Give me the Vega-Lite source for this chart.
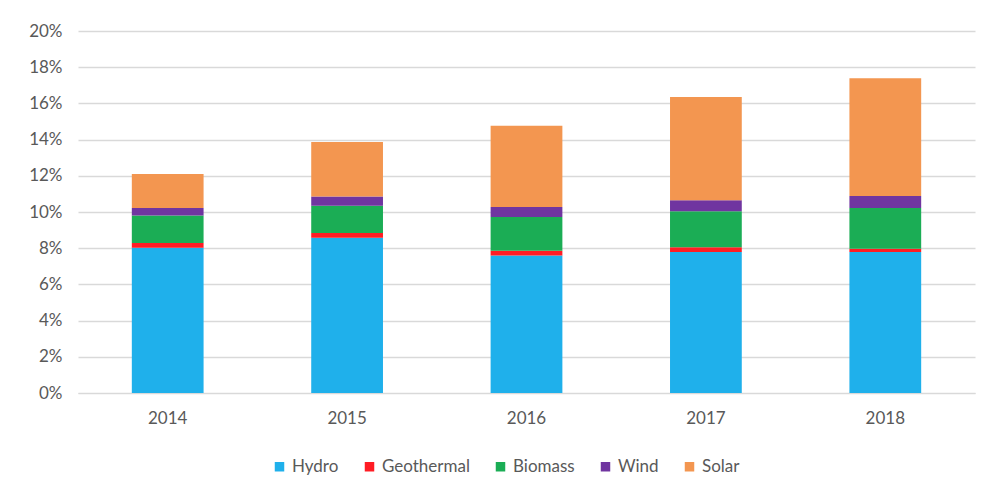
{
  "$schema": "https://vega.github.io/schema/vega-lite/v6.json",
  "width": 897,
  "height": 362,
  "autosize": {"type": "none"},
  "padding": {"left": 78, "top": 31, "right": 25, "bottom": 107},
  "background": "white",
  "config": {
    "view": {"stroke": null},
    "font": "Lato",
    "axis": {"labelFont": "Lato", "labelFontSize": 17, "labelColor": "#595959", "titleFont": "Lato"},
    "legend": {"labelFont": "Lato", "labelFontSize": 17, "labelColor": "#595959"}
  },
  "data": {
    "values": [
      {"year": "2014", "source": "Hydro", "share": 0.0803},
      {"year": "2014", "source": "Geothermal", "share": 0.0026},
      {"year": "2014", "source": "Biomass", "share": 0.0151},
      {"year": "2014", "source": "Wind", "share": 0.0042},
      {"year": "2014", "source": "Solar", "share": 0.0188},
      {"year": "2015", "source": "Hydro", "share": 0.0858},
      {"year": "2015", "source": "Geothermal", "share": 0.0026},
      {"year": "2015", "source": "Biomass", "share": 0.0151},
      {"year": "2015", "source": "Wind", "share": 0.0050},
      {"year": "2015", "source": "Solar", "share": 0.0302},
      {"year": "2016", "source": "Hydro", "share": 0.0760},
      {"year": "2016", "source": "Geothermal", "share": 0.0026},
      {"year": "2016", "source": "Biomass", "share": 0.0186},
      {"year": "2016", "source": "Wind", "share": 0.0056},
      {"year": "2016", "source": "Solar", "share": 0.0449},
      {"year": "2017", "source": "Hydro", "share": 0.0779},
      {"year": "2017", "source": "Geothermal", "share": 0.0026},
      {"year": "2017", "source": "Biomass", "share": 0.0199},
      {"year": "2017", "source": "Wind", "share": 0.0061},
      {"year": "2017", "source": "Solar", "share": 0.0570},
      {"year": "2018", "source": "Hydro", "share": 0.0779},
      {"year": "2018", "source": "Geothermal", "share": 0.0018},
      {"year": "2018", "source": "Biomass", "share": 0.0225},
      {"year": "2018", "source": "Wind", "share": 0.0066},
      {"year": "2018", "source": "Solar", "share": 0.0651}
    ]
  },
  "transform": [
    {"calculate": "indexof(['Hydro', 'Geothermal', 'Biomass', 'Wind', 'Solar'], datum.source)", "as": "stackOrder"}
  ],
  "mark": {"type": "bar"},
  "encoding": {
    "x": {
      "field": "year",
      "type": "nominal",
      "title": null,
      "scale": {"paddingInner": 0.6, "paddingOuter": 0.3},
      "axis": {"labelAngle": 0, "ticks": false, "labelPadding": 17, "domainColor": "#D9D9D9", "domainWidth": 1}
    },
    "y": {
      "field": "share",
      "type": "quantitative",
      "stack": "zero",
      "title": null,
      "scale": {"domain": [0, 0.2]},
      "axis": {
        "format": ".0%",
        "values": [0, 0.02, 0.04, 0.06, 0.08, 0.1, 0.12, 0.14, 0.16, 0.18, 0.2],
        "ticks": false,
        "domain": false,
        "labelPadding": 16,
        "gridColor": "#D9D9D9",
        "gridWidth": 1.3
      }
    },
    "color": {
      "field": "source",
      "type": "nominal",
      "sort": ["Hydro", "Geothermal", "Biomass", "Wind", "Solar"],
      "scale": {
        "domain": ["Hydro", "Geothermal", "Biomass", "Wind", "Solar"],
        "range": ["#1FB0EB", "#FF1C24", "#1BAD55", "#7035A0", "#F39650"]
      },
      "legend": {
        "title": null,
        "orient": "none",
        "direction": "horizontal",
        "legendX": 193,
        "legendY": 427,
        "symbolType": "square",
        "symbolSize": 90,
        "symbolStrokeWidth": 0,
        "labelOffset": 4,
        "columnPadding": 22
      }
    },
    "order": {"field": "stackOrder", "type": "quantitative", "sort": "ascending"}
  }
}
